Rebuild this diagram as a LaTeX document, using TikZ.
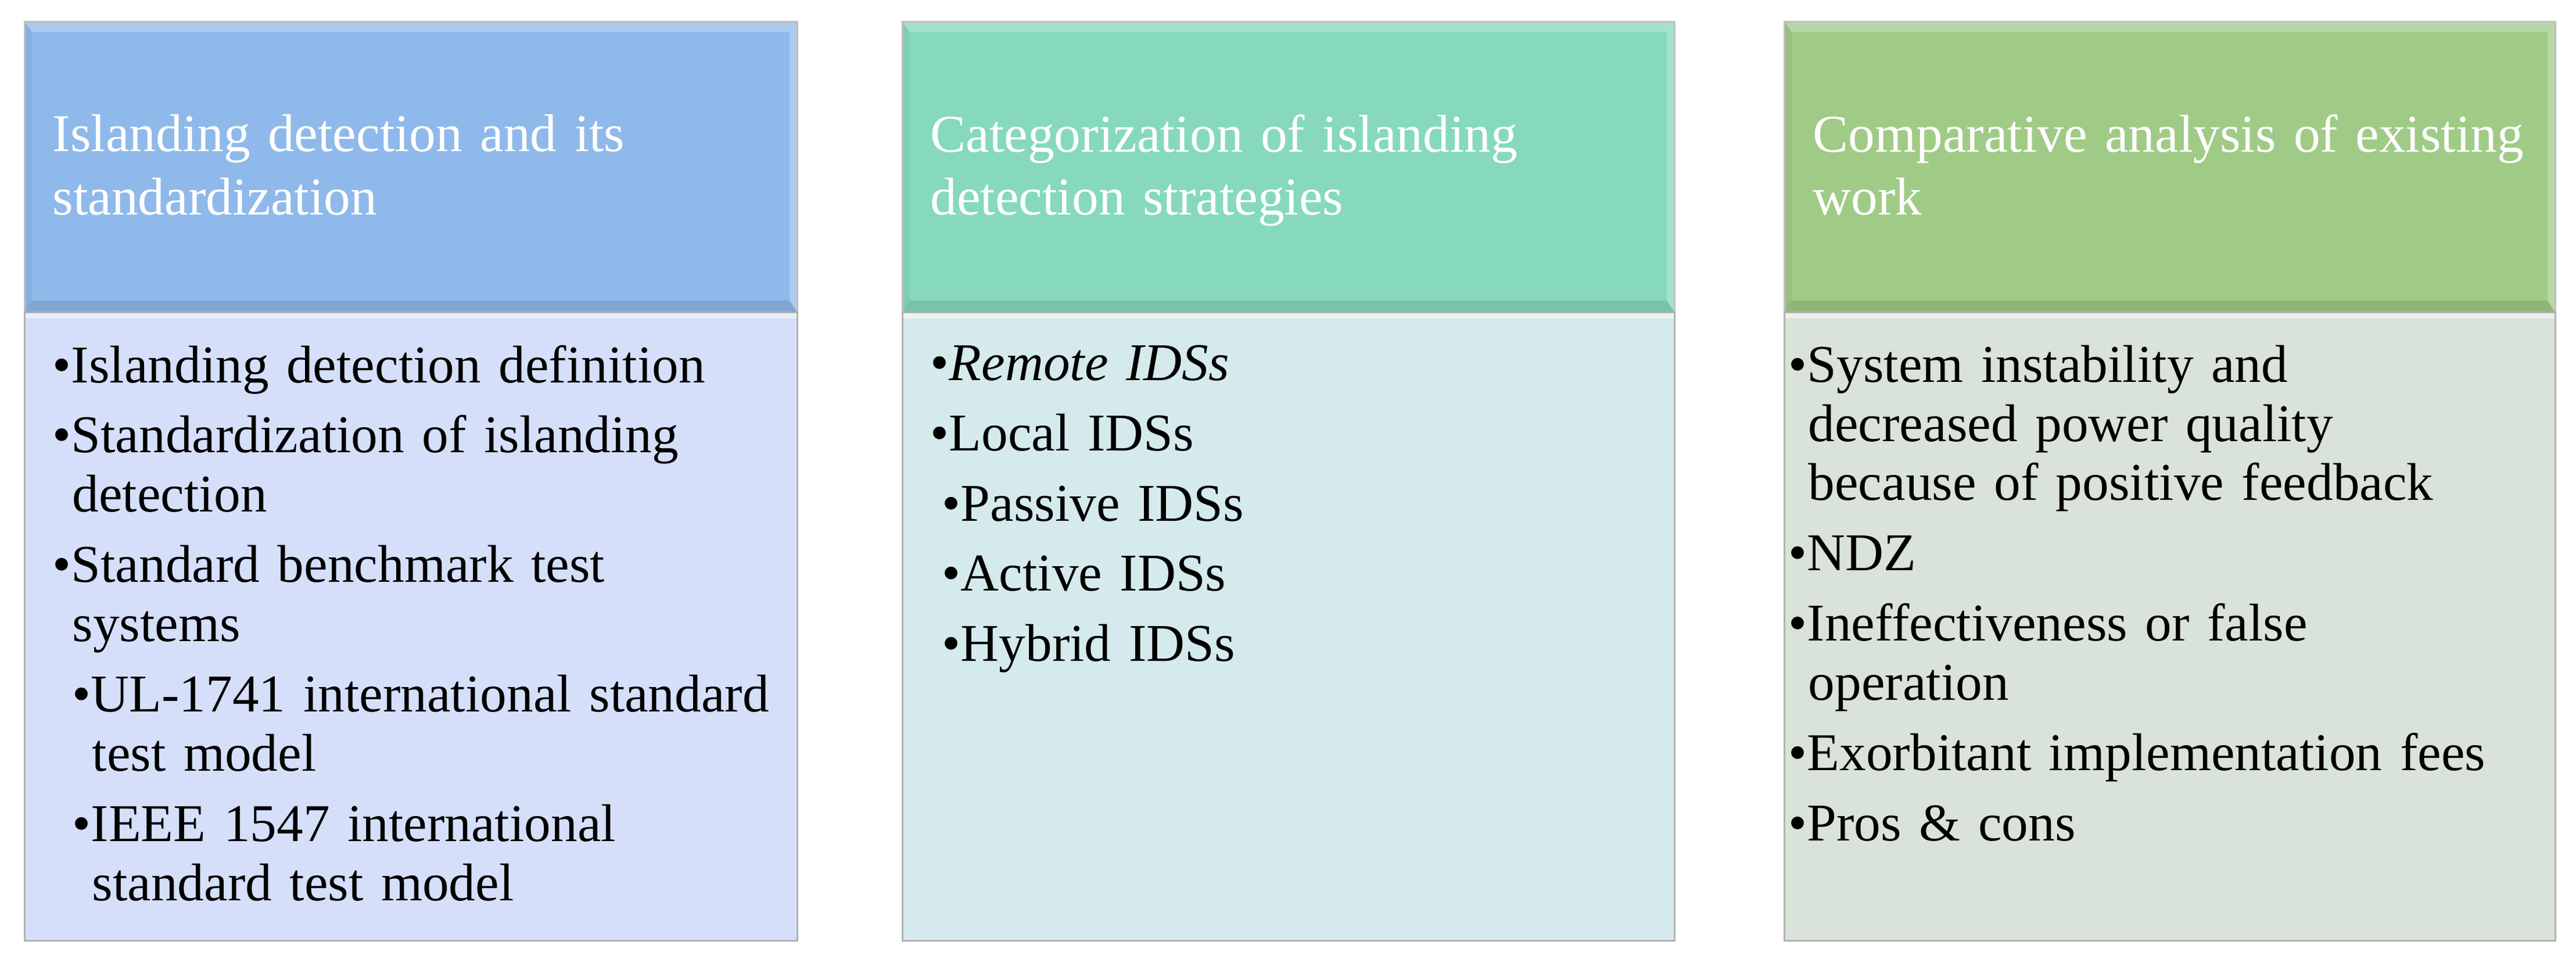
\documentclass[tikz,border=0pt]{standalone}
\usepackage{fontspec}
\setmainfont{Liberation Serif}
\hyphenpenalty=10000 \exhyphenpenalty=10000
\definecolor{hA}{HTML}{8FB9EA}\definecolor{bA}{HTML}{D5DFFA}
\definecolor{hB}{HTML}{86D9BE}\definecolor{bB}{HTML}{D5EAEC}
\definecolor{hC}{HTML}{A0CB86}\definecolor{bC}{HTML}{D9E3D9}
\tikzset{
 hdrtext/.style={anchor=north west,text=white,font=\fontsize{26}{31}\selectfont,align=left,text width=128mm,inner sep=0pt},
 bodytext/.style={anchor=north west,font=\fontsize{26}{29}\selectfont,align=left,text width=128mm,inner sep=0pt},
}
\newcommand{\bevelbox}[4]{% x0, x1, header color, body color
 \fill[#3] (#1,3.7) rectangle (#2,53.7);
 \fill[white,opacity=0.25] (#1,3.7) -- (#2,3.7) -- ({#2-1.3},5.5) -- ({#1+1.3},5.5) -- cycle;
 \fill[white,opacity=0.25] (#2,3.7) -- (#2,53.7) -- ({#2-1.3},51.7) -- ({#2-1.3},5.5) -- cycle;
 \fill[black,opacity=0.05] (#1,3.7) -- (#1,53.7) -- ({#1+1.3},51.7) -- ({#1+1.3},5.5) -- cycle;
 \fill[black,opacity=0.1] (#1,53.7) -- (#2,53.7) -- ({#2-1.3},51.7) -- ({#1+1.3},51.7) -- cycle;
 \draw[black!25,line width=0.3mm] (#1,3.7) rectangle (#2,53.7);
 \fill[#4] (#1,53.7) rectangle (#2,161.8);
 \fill[white,opacity=0.5] (#1,53.7) rectangle (#2,54.8);
 \draw[black!30,line width=0.3mm] (#1,53.7) rectangle (#2,161.8);
}
\begin{document}
\begin{tikzpicture}[x=1mm,y=-1mm]
\useasboundingbox (0,0) rectangle (443.4,164.3);
\bevelbox{4.2}{137.2}{hA}{bA}
\bevelbox{155.3}{288.2}{hB}{bB}
\bevelbox{307.1}{439.8}{hC}{bC}
\node[hdrtext] (h1) at (9,19.6) {Islanding detection and its\\standardization};
\node[hdrtext] (h2) at (160.1,19.6) {Categorization of islanding\\detection strategies};
\node[hdrtext] (h3) at (312,19.6) {Comparative analysis of existing\\work};
\node[bodytext] (t1) at (9,59.3) {%
\textbullet Islanding detection definition\\[1.9mm]
\textbullet Standardization of islanding\\\hspace*{3.4mm}detection\\[1.9mm]
\textbullet Standard benchmark test\\\hspace*{3.4mm}systems\\[1.9mm]
\hspace*{3.4mm}\textbullet UL-1741 international standard\\\hspace*{6.8mm}test model\\[1.9mm]
\hspace*{3.4mm}\textbullet IEEE 1547 international\\\hspace*{6.8mm}standard test model};
\node[bodytext] (t2) at (160.1,59.3) {%
\textbullet\textit{Remote IDSs}\\[1.9mm]
\textbullet Local IDSs\\[1.9mm]
\hspace*{2mm}\textbullet Passive IDSs\\[1.9mm]
\hspace*{2mm}\textbullet Active IDSs\\[1.9mm]
\hspace*{2mm}\textbullet Hybrid IDSs};
\node[bodytext] (t3) at (307.8,59.3) {%
\textbullet System instability and\\\hspace*{3.4mm}decreased power quality\\\hspace*{3.4mm}because of positive feedback\\[1.9mm]
\textbullet NDZ\\[1.9mm]
\textbullet Ineffectiveness or false\\\hspace*{3.4mm}operation\\[1.9mm]
\textbullet Exorbitant implementation fees\\[1.9mm]
\textbullet Pros \& cons};
\end{tikzpicture}
\end{document}
